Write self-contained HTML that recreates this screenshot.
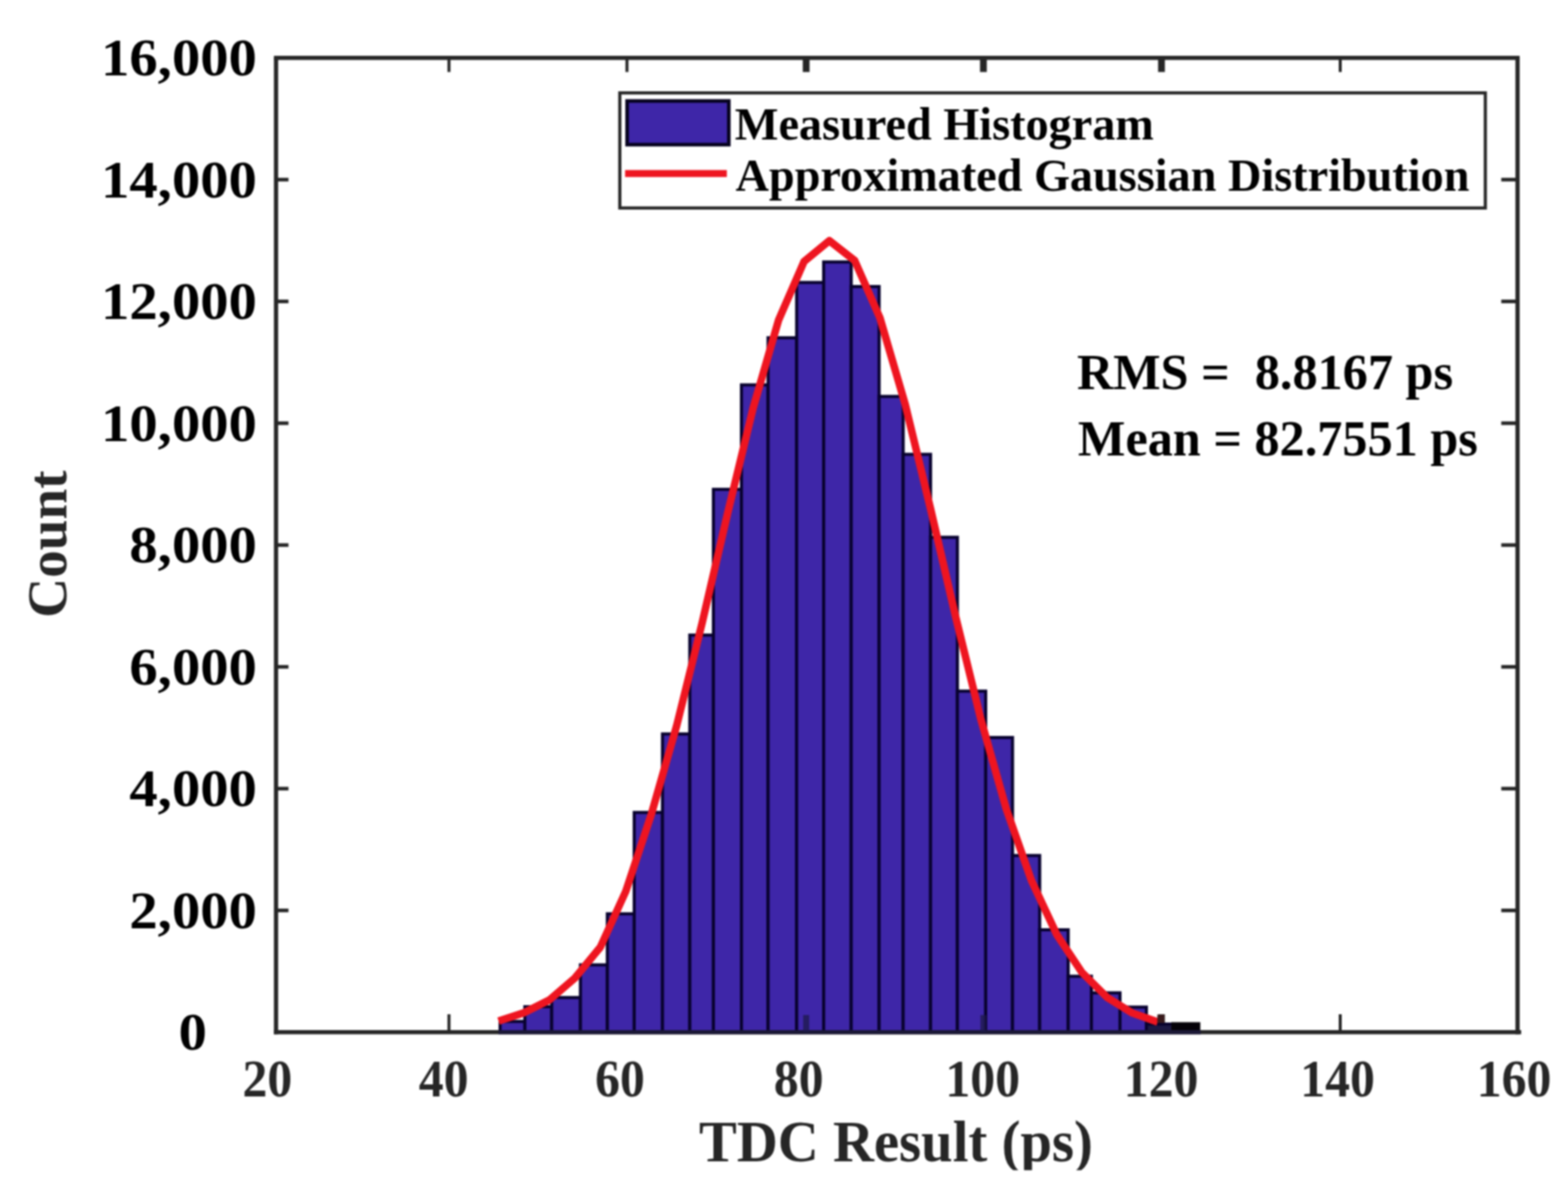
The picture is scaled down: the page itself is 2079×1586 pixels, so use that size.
<!DOCTYPE html>
<html lang="en"><head><meta charset="utf-8"><title>TDC Result Histogram</title>
<style>html,body{margin:0;padding:0;background:#fff;}body{width:2079px;height:1586px;overflow:hidden;}svg{display:block;filter:blur(0.9px);}text{font-family:"Liberation Serif","Times New Roman",Times,serif;font-weight:bold;white-space:pre;}</style>
</head><body>
<svg width="2079" height="1586" viewBox="0 0 2079 1586">
<rect x="0" y="0" width="2079" height="1586" fill="#ffffff"/>
<g id="axes-box" fill="none" stroke="#262626" stroke-width="5.6" stroke-linecap="butt">
<line x1="363.2" y1="76.7" x2="2014.9" y2="76.7"/>
<line x1="366.0" y1="76.7" x2="366.0" y2="1371.6"/>
<line x1="2012.1" y1="76.7" x2="2012.1" y2="1371.6"/>
<line x1="363.2" y1="1368.8" x2="2016.9" y2="1368.8"/>
</g>
<g id="ticks" stroke="#262626" fill="none">
<line x1="595.3" y1="76.7" x2="595.3" y2="95.5" stroke-width="4.0"/>
<line x1="595.3" y1="1368.8" x2="595.3" y2="1345.0" stroke-width="4.0"/>
<line x1="831.3" y1="76.7" x2="831.3" y2="95.5" stroke-width="4.0"/>
<line x1="831.3" y1="1368.8" x2="831.3" y2="1345.0" stroke-width="4.0"/>
<line x1="1068.9" y1="76.7" x2="1068.9" y2="95.5" stroke-width="9.0"/>
<line x1="1068.9" y1="1368.8" x2="1068.9" y2="1345.0" stroke-width="9.0"/>
<line x1="1303.9" y1="76.7" x2="1303.9" y2="95.5" stroke-width="9.0"/>
<line x1="1303.9" y1="1368.8" x2="1303.9" y2="1345.0" stroke-width="9.0"/>
<line x1="1540.0" y1="76.7" x2="1540.0" y2="95.5" stroke-width="9.0"/>
<line x1="1540.0" y1="1368.8" x2="1540.0" y2="1345.0" stroke-width="9.0"/>
<line x1="1777.0" y1="76.7" x2="1777.0" y2="95.5" stroke-width="4.0"/>
<line x1="1777.0" y1="1368.8" x2="1777.0" y2="1345.0" stroke-width="4.0"/>
<line x1="366.0" y1="1207.3" x2="382.5" y2="1207.3" stroke-width="4.8"/>
<line x1="2012.1" y1="1207.3" x2="1990.5" y2="1207.3" stroke-width="4.8"/>
<line x1="366.0" y1="1045.8" x2="382.5" y2="1045.8" stroke-width="4.8"/>
<line x1="2012.1" y1="1045.8" x2="1990.5" y2="1045.8" stroke-width="4.8"/>
<line x1="366.0" y1="884.3" x2="382.5" y2="884.3" stroke-width="4.8"/>
<line x1="2012.1" y1="884.3" x2="1990.5" y2="884.3" stroke-width="4.8"/>
<line x1="366.0" y1="722.8" x2="382.5" y2="722.8" stroke-width="4.8"/>
<line x1="2012.1" y1="722.8" x2="1990.5" y2="722.8" stroke-width="4.8"/>
<line x1="366.0" y1="561.2" x2="382.5" y2="561.2" stroke-width="4.8"/>
<line x1="2012.1" y1="561.2" x2="1990.5" y2="561.2" stroke-width="4.8"/>
<line x1="366.0" y1="399.7" x2="382.5" y2="399.7" stroke-width="4.8"/>
<line x1="2012.1" y1="399.7" x2="1990.5" y2="399.7" stroke-width="4.8"/>
<line x1="366.0" y1="238.2" x2="382.5" y2="238.2" stroke-width="4.8"/>
<line x1="2012.1" y1="238.2" x2="1990.5" y2="238.2" stroke-width="4.8"/>
</g>
<g id="bars" fill="#3e26a8" stroke="#08022e" stroke-width="4.1" stroke-linejoin="miter">
<rect x="663.1" y="1354.5" width="32.8" height="14.3"/>
<rect x="695.9" y="1335.0" width="35.6" height="33.8"/>
<rect x="731.5" y="1322.8" width="38.1" height="46.0"/>
<rect x="769.6" y="1279.5" width="35.7" height="89.3"/>
<rect x="805.3" y="1211.8" width="35.6" height="157.0"/>
<rect x="840.9" y="1077.4" width="37.5" height="291.4"/>
<rect x="878.4" y="973.3" width="36.2" height="395.5"/>
<rect x="914.6" y="842.2" width="31.3" height="526.6"/>
<rect x="945.9" y="648.9" width="37.2" height="719.9"/>
<rect x="983.1" y="510.4" width="35.3" height="858.4"/>
<rect x="1018.4" y="447.9" width="37.9" height="920.9"/>
<rect x="1056.3" y="374.6" width="35.8" height="994.2"/>
<rect x="1092.1" y="347.4" width="36.5" height="1021.4"/>
<rect x="1128.6" y="380.0" width="37.0" height="988.8"/>
<rect x="1165.6" y="525.7" width="31.9" height="843.1"/>
<rect x="1197.5" y="602.5" width="36.3" height="766.3"/>
<rect x="1233.8" y="712.5" width="35.6" height="656.3"/>
<rect x="1269.4" y="916.5" width="37.5" height="452.3"/>
<rect x="1306.9" y="978.0" width="35.6" height="390.8"/>
<rect x="1342.5" y="1134.5" width="36.0" height="234.3"/>
<rect x="1378.5" y="1233.0" width="37.8" height="135.8"/>
<rect x="1416.3" y="1294.6" width="30.8" height="74.2"/>
<rect x="1447.1" y="1316.6" width="37.9" height="52.2"/>
<rect x="1485.0" y="1335.5" width="35.0" height="33.3"/>
<rect x="1520.0" y="1358.0" width="35.0" height="10.8"/>
</g>
<rect id="tail" x="1553" y="1355.5" width="38.5" height="14" fill="#050208"/>
<rect id="tail2" x="1522" y="1360" width="31" height="8" fill="#1c1844"/>
<line x1="661" y1="1368.8" x2="1592" y2="1368.8" stroke="#1b1836" stroke-width="5.6"/>
<line x1="1068.9" y1="1346" x2="1068.9" y2="1368.8" stroke="#1d1a4a" stroke-width="8" stroke-opacity="0.75"/>
<line x1="1303.9" y1="1346" x2="1303.9" y2="1368.8" stroke="#1d1a4a" stroke-width="8" stroke-opacity="0.75"/>
<polyline id="gauss" points="661.0,1354.0 694.7,1343.0 728.5,1326.0 762.2,1297.0 796.0,1256.0 829.7,1182.0 863.5,1080.1 897.2,962.4 931.0,825.9 964.7,680.8 998.5,541.4 1032.2,424.8 1066.0,346.9 1099.7,319.2 1133.2,345.5 1166.7,421.5 1200.2,536.1 1233.6,673.7 1267.1,817.8 1300.6,954.1 1334.1,1072.4 1367.6,1167.7 1401.1,1239.2 1434.5,1289.5 1468.0,1322.7 1501.5,1343.4 1535.0,1355.3" fill="none" stroke="#ee1520" stroke-width="10" stroke-linejoin="round" stroke-linecap="butt"/>
<rect id="endcap" x="1534.5" y="1345.5" width="9.5" height="11" fill="#3a1a1c"/>
<g id="legend">
<rect x="821.8" y="123.2" width="1147.6" height="152.6" fill="#ffffff" stroke="#262626" stroke-width="4.2"/>
<rect x="831.5" y="133.9" width="134.8" height="57.9" fill="#3e26a8" stroke="#06021f" stroke-width="4.8"/>
<line x1="828.8" y1="230.2" x2="963.7" y2="230.2" stroke="#ee1520" stroke-width="9.2"/>
<text x="974.3" y="185" font-size="61.3" fill="#000">Measured Histogram</text>
<text x="975.3" y="253" font-size="61.3" fill="#000">Approximated Gaussian Distribution</text>
</g>
<g id="stats" fill="#000" font-size="68">
<text x="1427.9" y="516.3" textLength="498.7" lengthAdjust="spacingAndGlyphs">RMS =  8.8167 ps</text>
<text x="1429.3" y="604.3" textLength="530.1" lengthAdjust="spacingAndGlyphs">Mean = 82.7551 ps</text>
</g>
<g id="ylabels" fill="#000" font-size="70.5" text-anchor="end">
<text x="274.3" y="1392.4" textLength="37.6" lengthAdjust="spacingAndGlyphs">0</text>
<text x="340.7" y="1230.9" textLength="169.2" lengthAdjust="spacingAndGlyphs">2,000</text>
<text x="340.7" y="1069.4" textLength="169.2" lengthAdjust="spacingAndGlyphs">4,000</text>
<text x="340.7" y="907.9" textLength="169.2" lengthAdjust="spacingAndGlyphs">6,000</text>
<text x="340.7" y="746.4" textLength="169.2" lengthAdjust="spacingAndGlyphs">8,000</text>
<text x="340.7" y="584.8" textLength="206.8" lengthAdjust="spacingAndGlyphs">10,000</text>
<text x="340.7" y="423.3" textLength="206.8" lengthAdjust="spacingAndGlyphs">12,000</text>
<text x="340.7" y="261.8" textLength="206.8" lengthAdjust="spacingAndGlyphs">14,000</text>
<text x="340.7" y="100.3" textLength="206.8" lengthAdjust="spacingAndGlyphs">16,000</text>
</g>
<clipPath id="clipx"><rect x="0" y="0" width="2055.6" height="1586"/></clipPath>
<g id="xlabels" fill="#262626" font-size="69.5" clip-path="url(#clipx)">
<text x="321.6" y="1454.2" textLength="66.0" lengthAdjust="spacingAndGlyphs">20</text>
<text x="555.3" y="1454.2" textLength="66.0" lengthAdjust="spacingAndGlyphs">40</text>
<text x="788.9" y="1454.2" textLength="66.0" lengthAdjust="spacingAndGlyphs">60</text>
<text x="1026.0" y="1454.2" textLength="66.0" lengthAdjust="spacingAndGlyphs">80</text>
<text x="1253.6" y="1454.2" textLength="99.0" lengthAdjust="spacingAndGlyphs">100</text>
<text x="1489.9" y="1454.2" textLength="99.0" lengthAdjust="spacingAndGlyphs">120</text>
<text x="1723.9" y="1454.2" textLength="99.0" lengthAdjust="spacingAndGlyphs">140</text>
<text x="1957.9" y="1454.2" textLength="99.0" lengthAdjust="spacingAndGlyphs">160</text>
</g>
<clipPath id="clipb"><rect x="0" y="0" width="2079" height="1551.8"/></clipPath>
<g clip-path="url(#clipb)"><text id="xlabel" x="926.8" y="1539.5" font-size="79" fill="#262626" textLength="522.3" lengthAdjust="spacingAndGlyphs">TDC Result (ps)</text></g>
<text id="ylabel" transform="translate(87.8,819.3) rotate(-90)" font-size="73.3" fill="#262626">Count</text>
</svg>
</body></html>
